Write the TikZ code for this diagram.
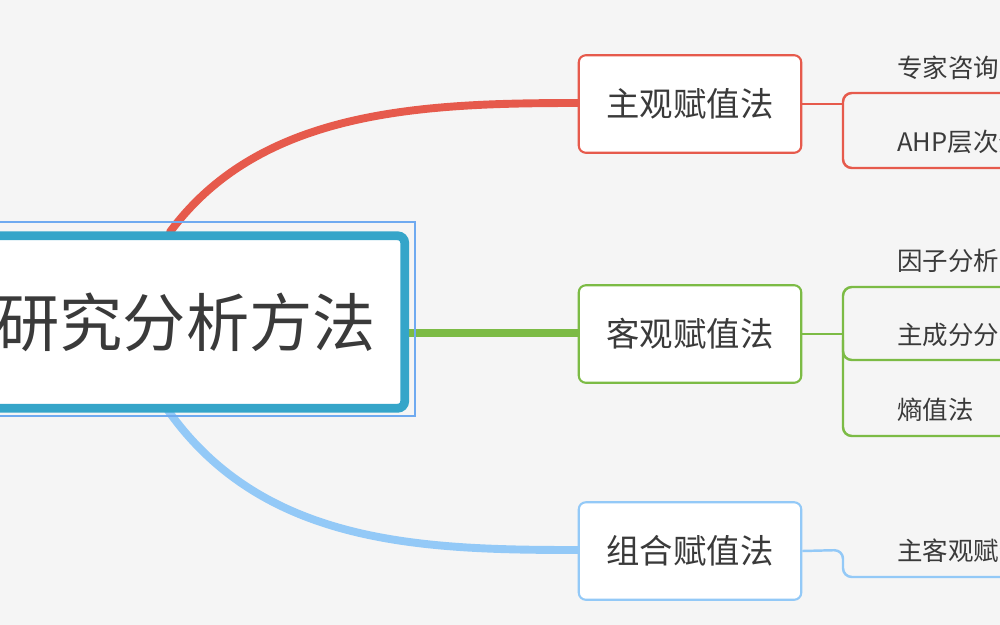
\documentclass[tikz,border=0pt]{standalone}
\usepackage{fontspec}
\setmainfont{Noto Sans CJK SC}
\usetikzlibrary{positioning}
\definecolor{bgpage}{HTML}{F5F5F5}
\definecolor{rootline}{HTML}{35A5C9}
\definecolor{selline}{HTML}{6FAAF0}
\definecolor{subj}{HTML}{E65A4C}
\definecolor{obj}{HTML}{7CBB45}
\definecolor{comb}{HTML}{93C9F7}
\definecolor{txt}{HTML}{3A3A3A}

\begin{document}
\begin{tikzpicture}[
        x=0.02cm, y=-0.02cm,
        root/.style={
            rectangle,
            draw=rootline,
            fill=white,
            line width=5pt,
            rounded corners=4pt,
            minimum width=8.75cm,
            minimum height=3.45cm,
            text=txt,
            font=\fontsize{36pt}{36pt}\selectfont
        },
        topic/.style={
            rectangle,
            fill=white,
            line width=1.2pt,
            rounded corners=4pt,
            minimum width=4.45cm,
            minimum height=1.95cm,
            text=txt,
            font=\fontsize{19pt}{19pt}\selectfont
        },
        leaf/.style={
            anchor=west,
            inner sep=0pt,
            text=txt,
            font=\fontsize{14.5pt}{14.5pt}\selectfont
        },
        link/.style={
            line width=#1,
            line cap=round
        }
    ]
        \fill[bgpage] (0,0) rectangle (1000,625);
        \clip (0,0) rectangle (1000,625);

        % Main branches
        \draw[subj, link=4.5pt] (170,232) .. controls (260,110) and (420,103) .. (578,103);
        \draw[comb, link=4.5pt] (165,406) .. controls (260,545) and (420,550) .. (578,550);
        \draw[obj, link=4pt] (405,333) -- (578,333);

        % Root
        \draw[selline, line width=0.8pt] (-20,222) rectangle (415,416);
        \node[root] (root) at (186,322) {研究分析方法};

        % Topics
        \node[topic, draw=subj] (t1) at (690,104) {主观赋值法};
        \node[topic, draw=obj] (t2) at (690,334) {客观赋值法};
        \node[topic, draw=comb] (t3) at (690,551) {组合赋值法};

        % Subtopic frames
        \begin{scope}[line width=1.4pt, rounded corners=5pt]
            \draw[subj] (t1.east) -- (843,104);
            \draw[subj] (1020,93) -- (843,93) -- (843,168) -- (1020,168);
            \draw[obj] (t2.east) -- (843,334);
            \draw[obj] (1020,287) -- (843,287) -- (843,436) -- (1020,436);
            \draw[obj] (843,340) -- (843,360) -- (1020,360);
            \draw[comb] (t3.east) -- (843,550) -- (843,577) -- (1020,577);
        \end{scope}

        % Leaves
        \node[leaf] (l1) at (897,68) {专家咨询法};
        \node[leaf] (l2) at (897,142) {AHP层次分析法};
        \node[leaf] (l3) at (897,261) {因子分析法};
        \node[leaf] (l4) at (897,335) {主成分分析法};
        \node[leaf] (l5) at (897,410) {熵值法};
        \node[leaf] (l6) at (897,551) {主客观赋值法};
    \end{tikzpicture}
\end{document}
